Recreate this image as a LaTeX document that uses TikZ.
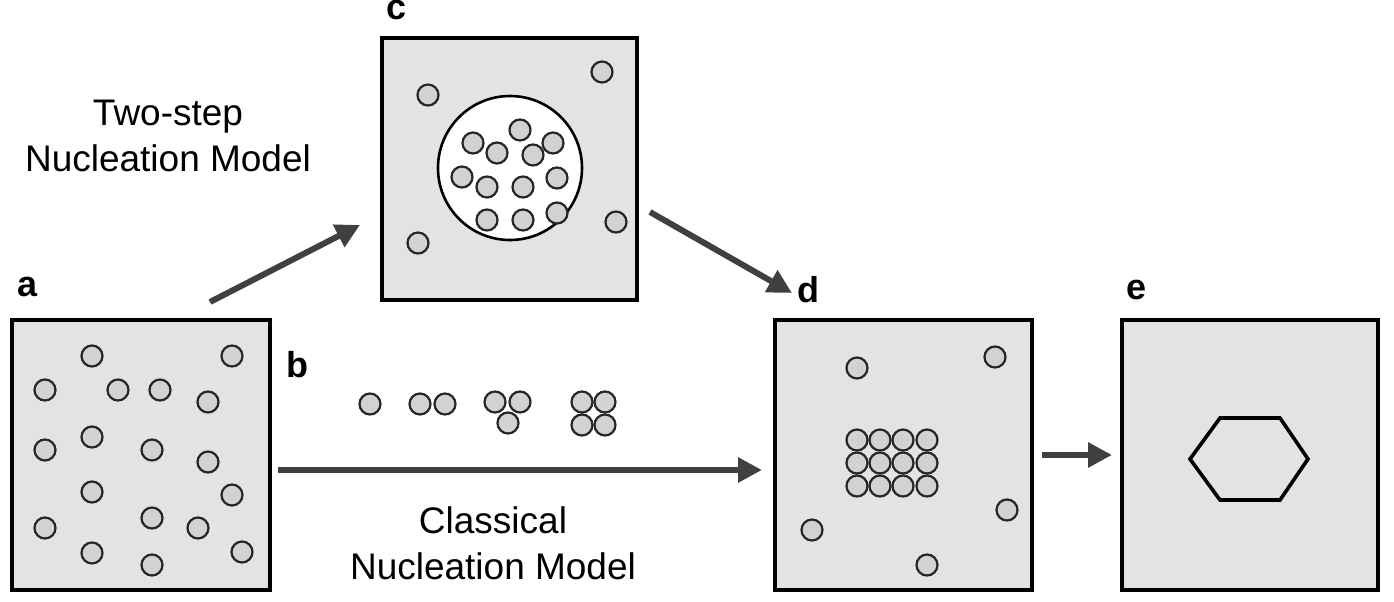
\documentclass[tikz,border=0pt]{standalone}
\usepackage{fontspec}
\setmainfont{Liberation Sans}
\usetikzlibrary{arrows.meta}
\begin{document}
\begin{tikzpicture}[x=0.5pt,y=-0.5pt,
  box/.style={draw=black,line width=1.6pt,fill=gray!22},
  p/.style={draw=black!85,line width=1.1pt,fill=gray!35,circle,minimum size=10.5pt,inner sep=0pt},
  arr/.style={draw=black!75,line width=3pt,-{Triangle[length=12pt,width=12pt]}},
  lab/.style={font=\bfseries\fontsize{18}{18}\selectfont,inner sep=1pt},
  txt/.style={font=\fontsize{18.5}{23}\selectfont,align=center}]
\useasboundingbox (0,0) rectangle (1394,601);
\draw[box] (12,320) rectangle (270,590);
\draw[box] (382,38) rectangle (637,300);
\draw[box] (775,320) rectangle (1032,590);
\draw[box] (1122,320) rectangle (1378,590);
\foreach \x/\y in {92/356,232/356,45/390,118/390,160/390,208/402,45/450,92/437,152/450,208/462,92/492,232/495,45/528,152/518,198/528,92/553,152/565,242/552}
  \node[p] at (\x,\y) {};
\draw[black,line width=1.3pt,fill=white] (510,168) circle (72);
\foreach \x/\y in {428/95,602/72,418/243,616/222,520/130,473/143,497/153,533/155,553/143,462/177,487/187,523/187,557/178,487/220,523/220,557/213}
  \node[p] at (\x,\y) {};
\foreach \x/\y in {370/404,420/404,445/404,495/402,520/402,508/423,582/402,605/402,582/425,605/425}
  \node[p] at (\x,\y) {};
\foreach \x/\y in {857/368,995/357,812/530,1007/510,927/565}
  \node[p] at (\x,\y) {};
\foreach \x in {857,880,903,927}
  \foreach \y in {440,463,486}
    \node[p] at (\x,\y) {};
\draw[black,line width=1.8pt] (1190,459)--(1220,418)--(1280,418)--(1308,459)--(1280,500)--(1220,500)--cycle;
\coordinate (a1) at (210,302); \coordinate (c1) at (360,225);
\coordinate (c2) at (650,212); \coordinate (d1) at (792,293);
\coordinate (b1) at (278,470); \coordinate (d2) at (762,470);
\coordinate (d3) at (1042,455); \coordinate (e1) at (1112,455);
\draw[arr] (a1)--(c1);
\draw[arr] (c2)--(d1);
\draw[arr] (b1)--(d2);
\draw[arr] (d3)--(e1);
\node[lab] (la) at (28,287) {a};
\node[lab] (lb) at (297,365) {b};
\node[lab] (lc) at (397,10) {c};
\node[lab] (ld) at (808,290) {d};
\node[lab] (le) at (1137,290) {e};
\node[txt] (t1) at (168,136) {Two-step\\Nucleation Model};
\node[txt] (t2) at (493,543) {Classical\\Nucleation Model};
\end{tikzpicture}
\end{document}
